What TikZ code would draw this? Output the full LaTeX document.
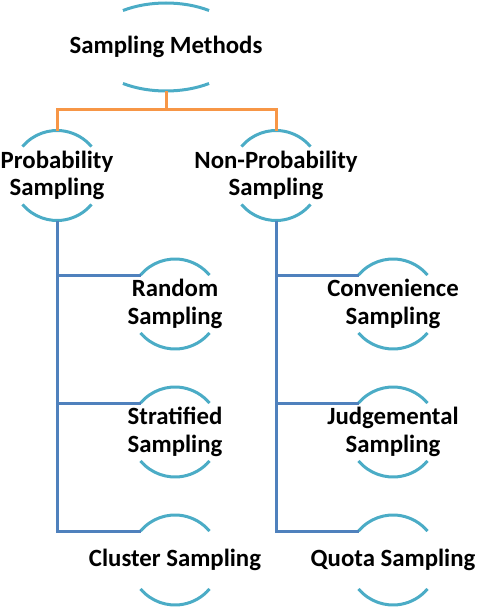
\documentclass[tikz,border=0pt]{standalone}
\usepackage{fontspec}
\setmainfont{Carlito}
\usetikzlibrary{shapes.geometric}

\definecolor{ringteal}{HTML}{4BACC6}
\definecolor{linkorange}{HTML}{F79646}
\definecolor{linkblue}{HTML}{4F81BD}

\begin{document}
\begin{tikzpicture}[
    x=1pt, y=1pt,
    ring/.style={circle, minimum size=90pt, inner sep=0pt, outer sep=0pt},
    oval/.style={ellipse, minimum width=154pt, minimum height=88pt,
                inner sep=0pt, outer sep=0pt},
    txt/.style={font=\fontsize{24.8}{27.4}\selectfont\bfseries, align=center},
    arcline/.style={draw=ringteal, line width=3pt},
    toplink/.style={draw=linkorange, line width=3pt},
    sublink/.style={draw=linkblue, line width=3pt},
]
\useasboundingbox (0,0) rectangle (479,-607);

% --- Root ---
\node[oval, label={[txt]center:Sampling Methods}] (top) at (166,-47) {};

% --- Two families ---
\node[ring, label={[txt]center:Probability\\Sampling}] (prob) at (57,-175.5) {};
\node[ring, label={[txt]center:Non-Probability\\Sampling}] (nonprob) at (276,-175.5) {};

% --- Probability methods ---
\node[ring, label={[txt]center:Random\\Sampling}] (rand) at (175,-304) {};
\node[ring, label={[txt]center:Stratified\\Sampling}] (strat) at (175,-432) {};
\node[ring, label={[txt]center:Cluster Sampling}] (clus) at (175,-560) {};

% --- Non-probability methods ---
\node[ring, label={[txt]center:Convenience\\Sampling}] (conv) at (393,-304) {};
\node[ring, label={[txt]center:Judgemental\\Sampling}] (judg) at (393,-432) {};
\node[ring, label={[txt]center:Quota Sampling}] (quota) at (393,-560) {};

% --- Arcs ---
\draw[arcline] ([shift={(56:77pt and 44pt)}]top.center)
  arc[start angle=56, end angle=124, x radius=77pt, y radius=44pt];
\draw[arcline] ([shift={(236:77pt and 44pt)}]top.center)
  arc[start angle=236, end angle=304, x radius=77pt, y radius=44pt];
\foreach \n in {prob,nonprob,rand,strat,clus,conv,judg,quota} {
  \draw[arcline] (\n.140) arc[start angle=140, end angle=40, radius=45pt];
  \draw[arcline] (\n.220) arc[start angle=220, end angle=320, radius=45pt];
}

% --- Links ---
\draw[toplink] (top.south) -- ++(0,-19) -| (prob.north);
\draw[toplink] (top.south) -- ++(0,-19) -| (nonprob.north);
\draw[sublink] (prob.south) |- (rand.140);
\draw[sublink] (prob.south) |- (strat.140);
\draw[sublink] (prob.south) |- (clus.140);
\draw[sublink] (nonprob.south) |- (conv.140);
\draw[sublink] (nonprob.south) |- (judg.140);
\draw[sublink] (nonprob.south) |- (quota.140);

\end{tikzpicture}
\end{document}
